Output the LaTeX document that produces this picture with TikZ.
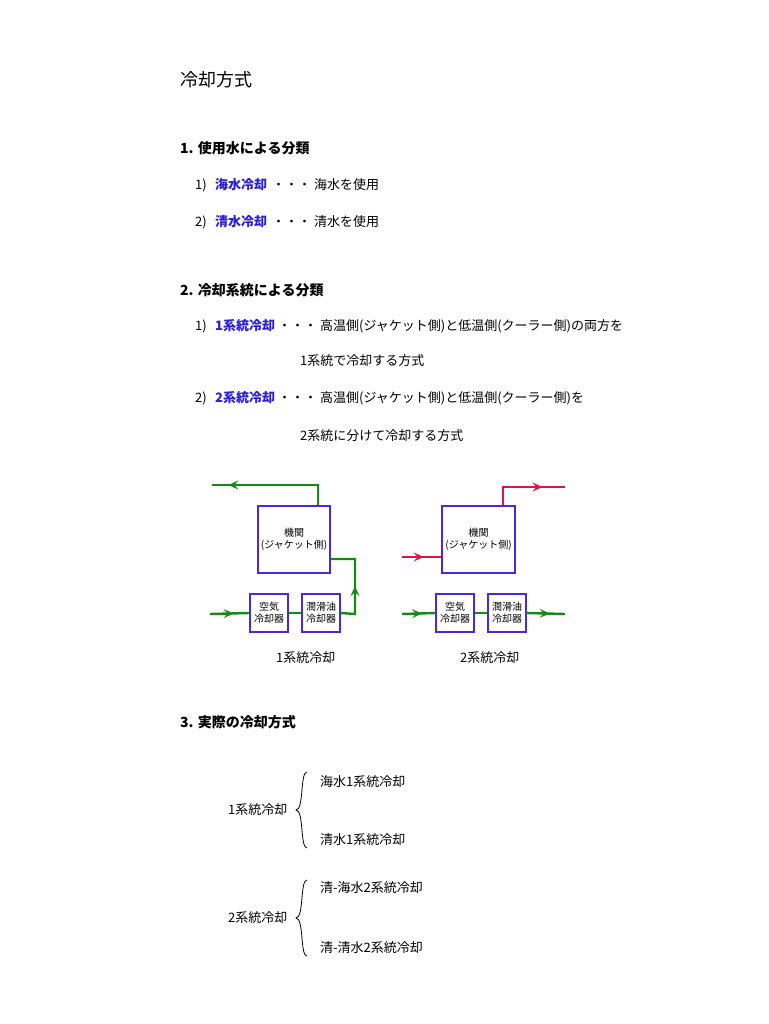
\documentclass[tikz,border=0pt]{standalone}
\usepackage{fontspec}
\setmainfont{Noto Sans CJK JP}
\usepackage{tikz}
\usetikzlibrary{calc,decorations.markings,arrows.meta}
\definecolor{pipegreen}{RGB}{20,140,20}
\definecolor{pipered}{RGB}{225,20,70}
\definecolor{boxblue}{RGB}{70,40,230}
\definecolor{namblue}{RGB}{40,30,220}
\begin{document}
\begin{tikzpicture}[x=1pt,y=-1pt,
    txt/.style={anchor=west,inner sep=0pt,font=\fontsize{13}{15}\selectfont},
    hd/.style={txt,font=\fontsize{14}{16}\selectfont\bfseries},
    kw/.style={txt,text=namblue,font=\fontsize{13}{15}\selectfont\bfseries},
    unit/.style={draw=boxblue,line width=1.3pt,inner sep=0pt,align=center,font=\fontsize{10}{12}\selectfont},
    pipe/.style={line width=2.4pt,pipegreen},
    hot/.style={pipe,pipered},
    midarrow/.style={postaction={decorate},decoration={markings,mark=at position #1 with {\arrow{Stealth[length=10pt,width=9pt,inset=4pt]}}}}]
  \useasboundingbox (0,0) rectangle (768,1024);
  % headings
  \node[txt,font=\fontsize{18}{20}\selectfont] (title) at (180,80) {冷却方式};
  \node[hd] (s1) at (180,148) {1. 使用水による分類};
  \node[txt] (a1) at (195,185) {1)}; \node[kw] (a1k) at (215,185) {海水冷却};
  \node[txt] (a1t) at (272,185) {・・・ 海水を使用};
  \node[txt] (a2) at (195,222) {2)}; \node[kw] (a2k) at (215,222) {清水冷却};
  \node[txt] (a2t) at (272,222) {・・・ 清水を使用};
  \node[hd] (s2) at (180,290) {2. 冷却系統による分類};
  \node[txt] (b1) at (195,326) {1)}; \node[kw] (b1k) at (215,326) {1系統冷却};
  \node[txt] (b1t) at (278,326) {・・・ 高温側(ジャケット側)と低温側(クーラー側)の両方を};
  \node[txt] (b1u) at (300,361) {1系統で冷却する方式};
  \node[txt] (b2) at (195,398) {2)}; \node[kw] (b2k) at (215,398) {2系統冷却};
  \node[txt] (b2t) at (278,398) {・・・ 高温側(ジャケット側)と低温側(クーラー側)を};
  \node[txt] (b2u) at (300,436) {2系統に分けて冷却する方式};
  % left diagram
  \node[unit,minimum width=72pt,minimum height=67pt] (engA) at (294,539.5) {機関\\(ジャケット側)};
  \node[unit,minimum width=38pt,minimum height=38pt] (airA) at (269,613) {空気\\冷却器};
  \node[unit,minimum width=38pt,minimum height=38pt] (oilA) at (321,613) {潤滑油\\冷却器};
  \coordinate (outA) at (212,485);
  \coordinate (inA) at (210,614);
  \draw[pipe,midarrow=0.87] (engA.north -| 318,0) -- (318,485) -- (outA);
  \draw[pipe,midarrow=0.6] (inA) -- (airA.west);
  \draw[pipe] (airA.east) -- (oilA.west);
  \draw[pipe,midarrow=0.45] (oilA.east) -- (355,614) -- (355,559) -- (engA.east |- 0,559);
  \node[txt] (capA) at (276,658) {1系統冷却};
  % right diagram
  \node[unit,minimum width=73pt,minimum height=67pt] (engB) at (478.5,539.5) {機関\\(ジャケット側)};
  \node[unit,minimum width=38pt,minimum height=38pt] (airB) at (455,613) {空気\\冷却器};
  \node[unit,minimum width=38pt,minimum height=38pt] (oilB) at (507,613) {潤滑油\\冷却器};
  \coordinate (outB) at (565,487);
  \coordinate (hinB) at (402,557);
  \coordinate (inB) at (402,614);
  \coordinate (exB) at (565,614);
  \draw[hot,midarrow=0.72] (engB.north -| 503,0) -- (503,487) -- (outB);
  \draw[hot,midarrow=0.55] (hinB) -- (engB.west |- 0,557);
  \draw[pipe,midarrow=0.6] (inB) -- (airB.west);
  \draw[pipe] (airB.east) -- (oilB.west);
  \draw[pipe,midarrow=0.6] (oilB.east) -- (exB);
  \node[txt] (capB) at (460,658) {2系統冷却};
  % section 3
  \node[hd] (s3) at (180,722) {3. 実際の冷却方式};
  \node[txt] (c1) at (228,810) {1系統冷却};
  \node[txt] (c1a) at (320,782) {海水1系統冷却};
  \node[txt] (c1b) at (320,840) {清水1系統冷却};
  \node[txt] (c2) at (228,918) {2系統冷却};
  \node[txt] (c2a) at (320,888) {清-海水2系統冷却};
  \node[txt] (c2b) at (320,948) {清-清水2系統冷却};
  \draw[line width=0.8pt] (307,772) .. controls (300,772) and (304,810) .. (296,810) .. controls (304,810) and (300,848) .. (307,848);
  \draw[line width=0.8pt] (307,880) .. controls (300,880) and (304,918) .. (296,918) .. controls (304,918) and (300,956) .. (307,956);
\end{tikzpicture}
\end{document}
